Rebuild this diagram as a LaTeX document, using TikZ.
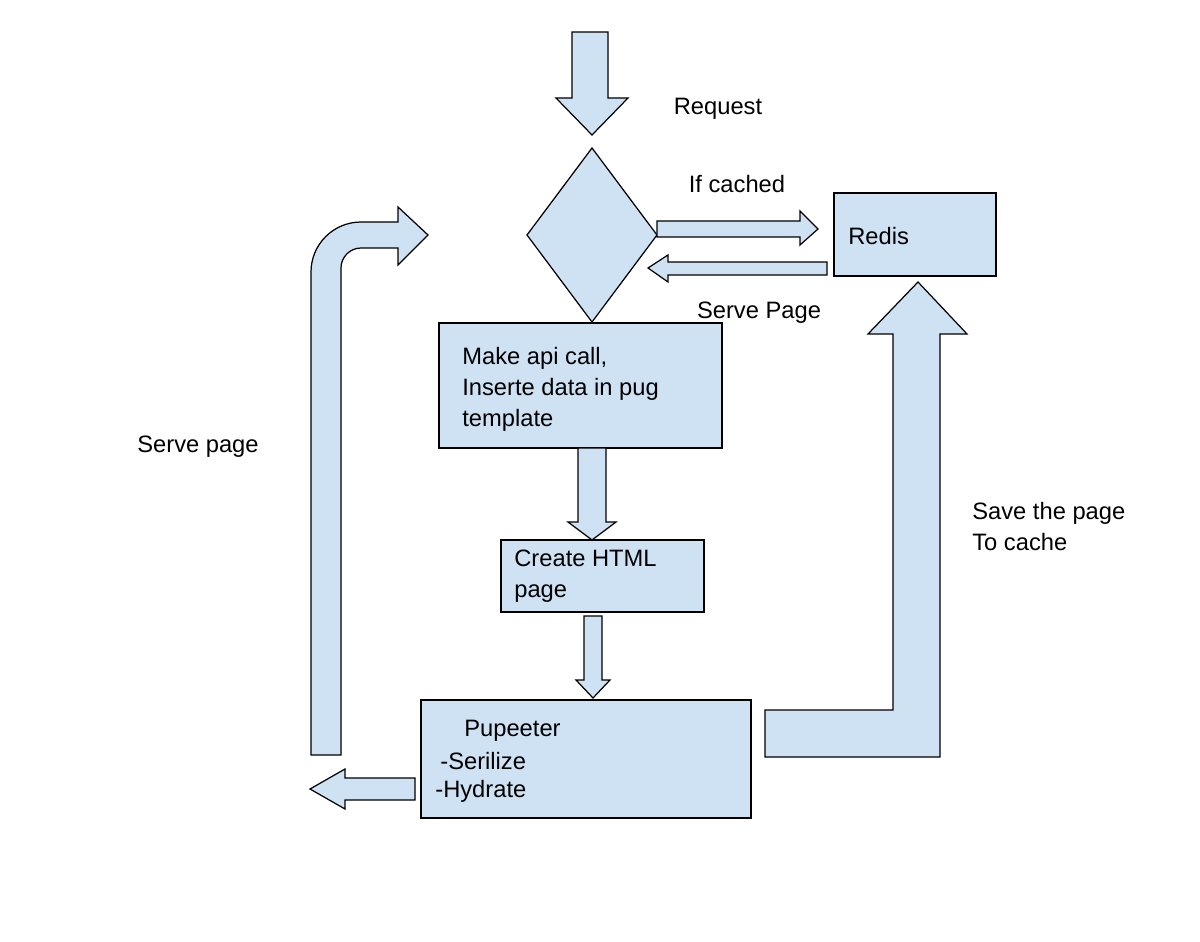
\documentclass[tikz,border=0pt]{standalone}
\usepackage{fontspec}
\setmainfont{Liberation Sans}
\definecolor{fillb}{HTML}{CFE2F3}
\begin{document}
\begin{tikzpicture}[x=0.02cm,y=-0.02cm,
  shp/.style={draw=black,line width=0.7pt,fill=fillb,line join=miter},
  txt/.style={font=\fontsize{13.5}{17.5}\selectfont,inner sep=0pt,align=left}]
\useasboundingbox[fill=white] (0,0) rectangle (1200,942);
% top arrow
\draw[shp] (572,32)--(608,32)--(608,98)--(628,98)--(592,135)--(556,98)--(572,98)--cycle;
% diamond
\draw[shp] (592,148)--(657,235)--(592,322)--(527,235)--cycle;
\coordinate (dia) at (592,235);
% if cached arrow
\draw[shp] (657,221)--(800,221)--(800,211)--(818,229)--(800,245)--(800,237)--(657,237)--cycle;
% serve page arrow
\draw[shp] (827,262)--(668,262)--(668,255)--(648,268)--(668,282)--(668,275)--(827,275)--cycle;
% boxes
\draw[shp] (834,193) rectangle (996,276);
\node[txt,anchor=west] (redis) at (848,236) {Redis};
\draw[shp] (439,323) rectangle (722,448);
\node[txt,anchor=north west] (api) at (462,347) {Make api call,\\Inserte data in pug\\template};
\draw[shp] (578,448)--(606,448)--(606,522)--(616,522)--(592,540)--(568,522)--(578,522)--cycle;
\draw[shp] (501,540) rectangle (704,612);
\node[txt,anchor=north west] (html) at (514,550) {Create HTML\\page};
\draw[shp] (584,616)--(602,616)--(602,680)--(610,680)--(593,698)--(576,680)--(584,680)--cycle;
\draw[shp] (421,700) rectangle (751,818);
\node[txt,anchor=west] (pup) at (464,731) {Pupeeter};
\node[txt,anchor=west] (ser) at (440,761) {-Serilize};
\node[txt,anchor=west] (hyd) at (435,791) {-Hydrate};
% left arrow
\draw[shp] (415,778)--(345,778)--(345,769)--(310,789)--(345,809)--(345,800)--(415,800)--cycle;
% curved serve page arrow
\draw[shp] (311,755)--(311,272) .. controls (311,244.4) and (333.4,222) .. (361,222)--(398,222)--(398,207)--(428,235)--(398,265)--(398,248)--(361,248) .. controls (350,248) and (341,257) .. (341,268)--(341,755)--cycle;
% big right arrow
\draw[shp] (765,710)--(893,710)--(893,334)--(868,334)--(918,282)--(967,334)--(940,334)--(940,757)--(765,757)--cycle;
% labels
\node[txt] (req) at (718,109) {Request};
\node[txt] (ifc) at (737,184) {If cached};
\node[txt] (sp) at (759,313) {Serve Page};
\node[txt] (sp2) at (198,447) {Serve page};
\node[txt,anchor=north west] (save) at (972,502) {Save the page\\To cache};
\end{tikzpicture}
\end{document}
